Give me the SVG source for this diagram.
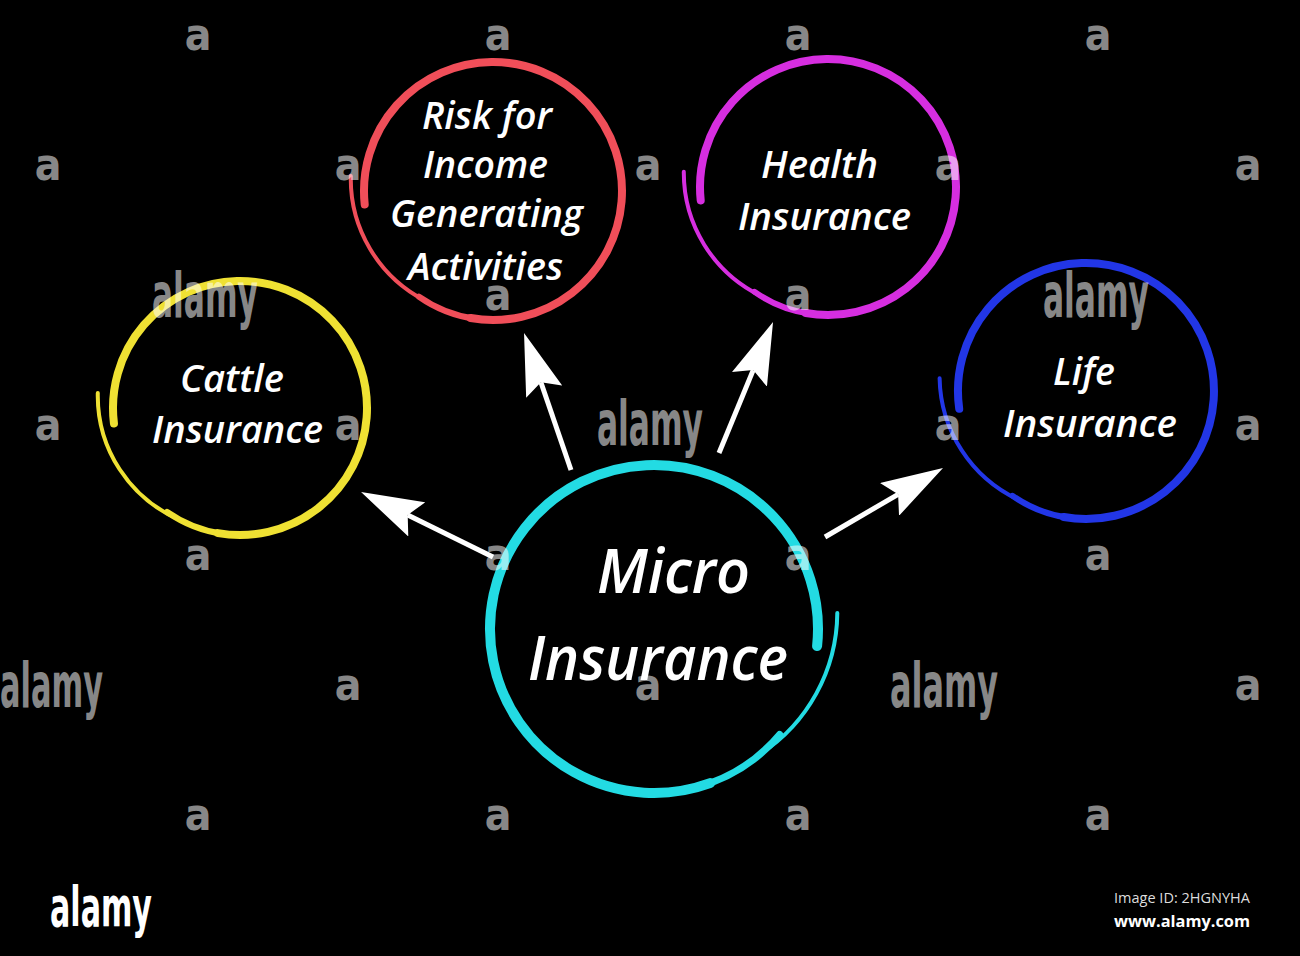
<svg xmlns="http://www.w3.org/2000/svg" width="1300" height="956" viewBox="0 0 1300 956">
<style>
.ring{fill:none;stroke-linecap:round}
.mid{fill:none;stroke-linecap:round;stroke-width:6}
.tail{fill:none;stroke-linecap:round;stroke-width:4}
.lbl{font-family:"Open Sans","Noto Sans","DejaVu Sans",sans-serif;font-style:italic;font-weight:600;fill:#ffffff;font-size:37px}
.big{font-size:62px}
.conn{stroke:#ffffff;stroke-width:5;fill:none}
.wm{font-family:"Liberation Sans Narrow","DejaVu Sans Condensed","Liberation Sans",sans-serif;font-weight:bold;fill:#ffffff;fill-opacity:0.55}
.wa{font-size:44px}
.wb{font-size:62px}
</style>
<defs>
<marker id="ah" viewBox="0 0 62 38" refX="10" refY="19" markerWidth="62" markerHeight="38" markerUnits="userSpaceOnUse" orient="auto">
<path d="M0,0 L62,19 L0,38 L10,19 Z" fill="#ffffff"/>
</marker>
</defs>
<rect width="1300" height="956" fill="#000000"/>

<g id="connectors">
<line class="conn" x1="493" y1="557" x2="407.7" y2="515" marker-end="url(#ah)"/>
<line class="conn" x1="571" y1="470" x2="540.9" y2="382.2" marker-end="url(#ah)"/>
<line class="conn" x1="719" y1="453" x2="753.2" y2="370.1" marker-end="url(#ah)"/>
<line class="conn" x1="825" y1="537" x2="898.1" y2="494.3" marker-end="url(#ah)"/>
</g>

<g id="node-cattle">
<path class="ring" stroke="#efe133" stroke-width="8" d="M113.95,423.48 A127,127 0 1 1 217.95,533.07"/>
<path class="mid" stroke="#efe133" d="M222.33,533.76 A127,127 0 0 1 167.16,512.03"/>
<path class="tail" stroke="#efe133" d="M180.4,520.1 A135,135 0 0 1 97.8,393.1"/>
<text class="lbl" x="180" y="392" textLength="104" lengthAdjust="spacingAndGlyphs">Cattle</text>
<text class="lbl" x="152" y="443" textLength="171" lengthAdjust="spacingAndGlyphs">Insurance</text>
</g>

<g id="node-risk">
<path class="ring" stroke="#f04e59" stroke-width="8" d="M364.7,204.5 A129,129 0 1 1 470.6,318.04"/>
<path class="mid" stroke="#f04e59" d="M475.05,318.74 A129,129 0 0 1 419,296.7"/>
<path class="tail" stroke="#f04e59" d="M424.6,300.4 A137,137 0 0 1 350.8,176.1"/>
<text class="lbl" x="422" y="129" textLength="130" lengthAdjust="spacingAndGlyphs">Risk for</text>
<text class="lbl" x="423" y="178" textLength="125" lengthAdjust="spacingAndGlyphs">Income</text>
<text class="lbl" x="390" y="227" textLength="193" lengthAdjust="spacingAndGlyphs">Generating</text>
<text class="lbl" x="408" y="280" textLength="155" lengthAdjust="spacingAndGlyphs">Activities</text>
</g>

<g id="node-health">
<path class="ring" stroke="#d62ee0" stroke-width="8" d="M700.7,200.4 A128,128 0 1 1 805.77,313.06"/>
<path class="mid" stroke="#d62ee0" d="M810.19,313.75 A128,128 0 0 1 754.6,291.9"/>
<path class="tail" stroke="#d62ee0" d="M760.2,295.6 A137,137 0 0 1 683.8,171.8"/>
<text class="lbl" x="761" y="178" textLength="117" lengthAdjust="spacingAndGlyphs">Health</text>
<text class="lbl" x="738" y="230" textLength="173" lengthAdjust="spacingAndGlyphs">Insurance</text>
</g>

<g id="node-life">
<path class="ring" stroke="#2236e6" stroke-width="8" d="M959.2,408.8 A128,128 0 1 1 1063.77,517.06"/>
<path class="mid" stroke="#2236e6" d="M1068.19,517.75 A128,128 0 0 1 1012.6,495.9"/>
<path class="tail" stroke="#2236e6" d="M1018.2,499.6 A137,137 0 0 1 939.6,378.2"/>
<text class="lbl" x="1053" y="385" textLength="62" lengthAdjust="spacingAndGlyphs">Life</text>
<text class="lbl" x="1003" y="437" textLength="174" lengthAdjust="spacingAndGlyphs">Insurance</text>
</g>

<g id="node-micro">
<path class="ring" stroke="#23dbe3" stroke-width="10" d="M710.09,783.11 A164,164 0 1 1 817.1,646.1"/>
<path class="ring" stroke="#23dbe3" stroke-width="7" d="M779.63,734.42 A164,164 0 0 1 696.45,787.41"/>
<path class="tail" stroke="#23dbe3" d="M837.3,613 A170,170 0 0 1 759.4,754.6"/>
<text class="lbl big" x="597" y="593" textLength="153" lengthAdjust="spacingAndGlyphs">Micro</text>
<text class="lbl big" x="528" y="680" textLength="260" lengthAdjust="spacingAndGlyphs">Insurance</text>
</g>

<g id="watermark">
<text class="wm wa" x="198" y="50" text-anchor="middle">a</text>
<text class="wm wa" x="498" y="50" text-anchor="middle">a</text>
<text class="wm wa" x="798" y="50" text-anchor="middle">a</text>
<text class="wm wa" x="1098" y="50" text-anchor="middle">a</text>
<text class="wm wa" x="48" y="180" text-anchor="middle">a</text>
<text class="wm wa" x="348" y="180" text-anchor="middle">a</text>
<text class="wm wa" x="648" y="180" text-anchor="middle">a</text>
<text class="wm wa" x="948" y="180" text-anchor="middle">a</text>
<text class="wm wa" x="1248" y="180" text-anchor="middle">a</text>
<text class="wm wa" x="498" y="310" text-anchor="middle">a</text>
<text class="wm wa" x="798" y="310" text-anchor="middle">a</text>
<text class="wm wa" x="48" y="440" text-anchor="middle">a</text>
<text class="wm wa" x="348" y="440" text-anchor="middle">a</text>
<text class="wm wa" x="948" y="440" text-anchor="middle">a</text>
<text class="wm wa" x="1248" y="440" text-anchor="middle">a</text>
<text class="wm wa" x="198" y="570" text-anchor="middle">a</text>
<text class="wm wa" x="498" y="570" text-anchor="middle">a</text>
<text class="wm wa" x="798" y="570" text-anchor="middle">a</text>
<text class="wm wa" x="1098" y="570" text-anchor="middle">a</text>
<text class="wm wa" x="348" y="700" text-anchor="middle">a</text>
<text class="wm wa" x="648" y="700" text-anchor="middle">a</text>
<text class="wm wa" x="1248" y="700" text-anchor="middle">a</text>
<text class="wm wa" x="198" y="830" text-anchor="middle">a</text>
<text class="wm wa" x="498" y="830" text-anchor="middle">a</text>
<text class="wm wa" x="798" y="830" text-anchor="middle">a</text>
<text class="wm wa" x="1098" y="830" text-anchor="middle">a</text>
<text class="wm wb" x="152" y="317" textLength="106" lengthAdjust="spacingAndGlyphs">alamy</text>
<text class="wm wb" x="1043" y="317" textLength="106" lengthAdjust="spacingAndGlyphs">alamy</text>
<text class="wm wb" x="597" y="445" textLength="106" lengthAdjust="spacingAndGlyphs">alamy</text>
<text class="wm wb" x="0" y="707" textLength="103" lengthAdjust="spacingAndGlyphs">alamy</text>
<text class="wm wb" x="890" y="707" textLength="108" lengthAdjust="spacingAndGlyphs">alamy</text>
</g>

<g id="stamp">
<text x="50" y="926" font-family="'Liberation Sans Narrow','DejaVu Sans Condensed',sans-serif" font-weight="bold" font-size="56" fill="#ffffff" textLength="102" lengthAdjust="spacingAndGlyphs">alamy</text>
<text x="1114" y="903" font-family="'Open Sans','Noto Sans',sans-serif" font-size="14" fill="#dddddd" textLength="136" lengthAdjust="spacingAndGlyphs">Image ID: 2HGNYHA</text>
<text x="1114" y="927" font-family="'Open Sans','Noto Sans',sans-serif" font-weight="bold" font-size="16" fill="#ffffff" textLength="136" lengthAdjust="spacingAndGlyphs">www.alamy.com</text>
</g>
</svg>
